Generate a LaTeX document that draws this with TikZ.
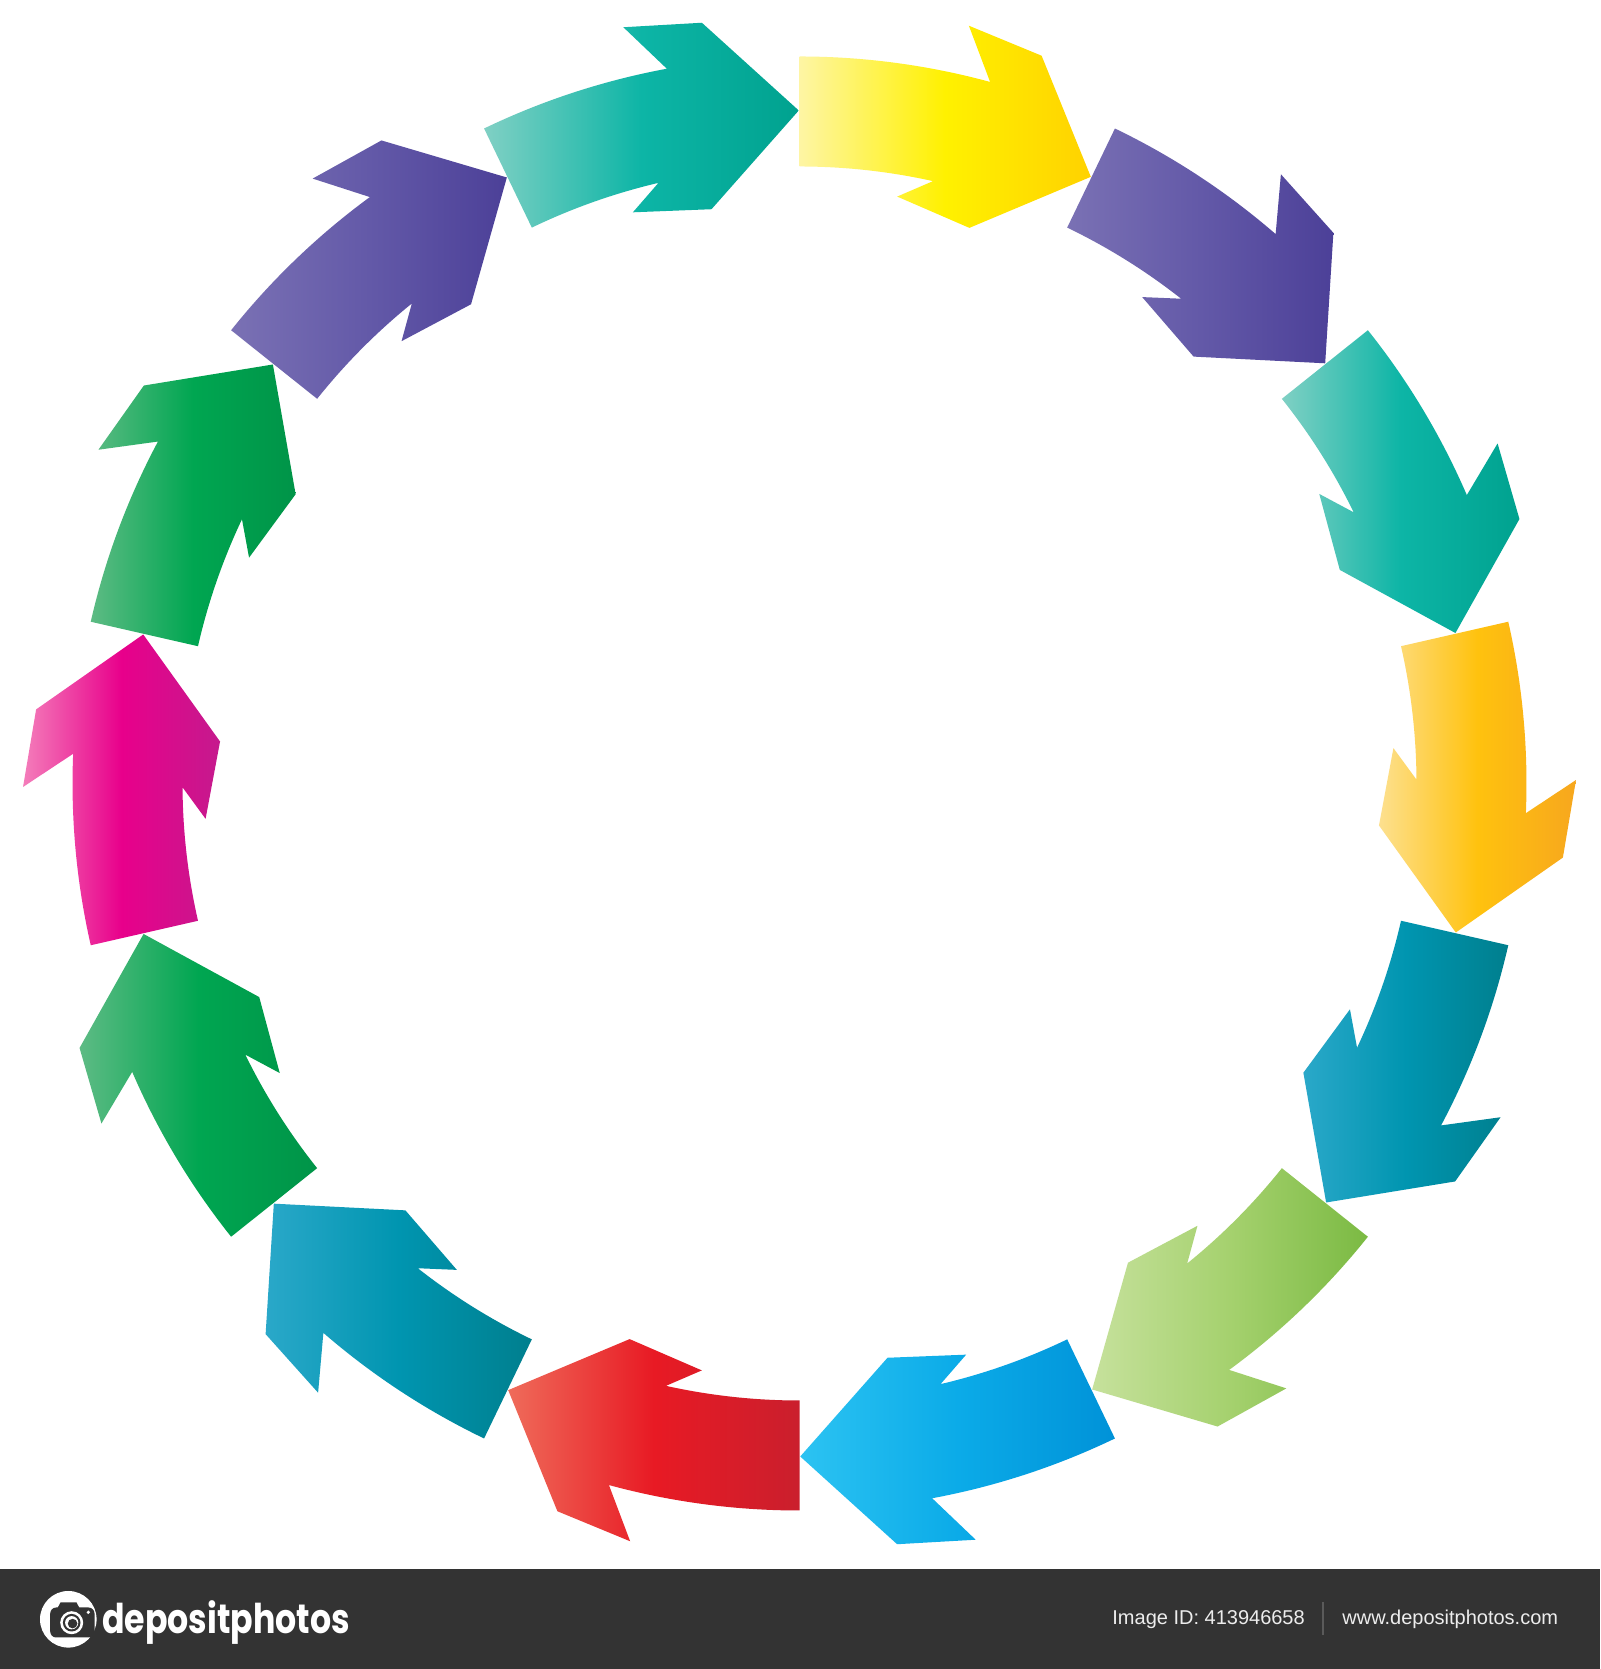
\documentclass[tikz,border=0pt]{standalone}
\usepackage{fontspec}
\setmainfont{Liberation Sans}
\newfontfamily\logofont{Poppins}
\definecolor{footbg}{HTML}{333333}
\definecolor{sepline}{HTML}{5A5A5A}
% yellow
\definecolor{yA}{HTML}{FEF5A4}\definecolor{yB}{HTML}{FFF100}\definecolor{yC}{HTML}{FFD200}
% purple
\definecolor{pA}{HTML}{7A71B4}\definecolor{pB}{HTML}{6359A8}\definecolor{pC}{HTML}{4C4098}
% teal
\definecolor{tA}{HTML}{80D0C4}\definecolor{tB}{HTML}{0DB5A6}\definecolor{tC}{HTML}{00A28F}
% orange
\definecolor{oA}{HTML}{FDE08F}\definecolor{oB}{HTML}{FFC20E}\definecolor{oC}{HTML}{F7A71E}
% blue-teal
\definecolor{bA}{HTML}{2AA8C9}\definecolor{bB}{HTML}{0095B0}\definecolor{bC}{HTML}{007F8E}
% light green
\definecolor{lA}{HTML}{C6E19C}\definecolor{lB}{HTML}{A5D16E}\definecolor{lC}{HTML}{7BBA43}
% blue
\definecolor{sA}{HTML}{2CC3F2}\definecolor{sB}{HTML}{0BABE8}\definecolor{sC}{HTML}{0092D8}
% red
\definecolor{rA}{HTML}{EF6B5A}\definecolor{rB}{HTML}{E81A24}\definecolor{rC}{HTML}{CA1F2D}
% green
\definecolor{gA}{HTML}{5DBB84}\definecolor{gB}{HTML}{00A651}\definecolor{gC}{HTML}{009448}
% magenta
\definecolor{mA}{HTML}{F47DBA}\definecolor{mB}{HTML}{E8008B}\definecolor{mC}{HTML}{C51A8D}
\tikzset{
  ringarrow/.style n args={3}{left color=#1, right color=#3, middle color=#2},
  foottext/.style={anchor=base west, inner sep=0pt, text=white!93!black,
    font=\fontsize{10}{12}\selectfont}
}
\begin{document}
\begin{tikzpicture}[x=0.5pt,y=0.5pt]
\useasboundingbox (0,0) rectangle (1600,1669);
\fill[white] (0,0) rectangle (1600,1669);
\begin{scope}[shift={(799.5,885.5)}]
\foreach \k/\cl/\cm/\cr in {0/yA/yB/yC, 1/pA/pB/pC, 2/tA/tB/tC, 3/oA/oB/oC,
  4/bA/bB/bC, 5/lA/lB/lC, 6/sA/sB/sC, 7/rA/rB/rC, 8/bA/bB/bC, 9/gA/gB/gC,
  10/mA/mB/mC, 11/gA/gB/gC, 12/pA/pB/pC, 13/tA/tB/tC}{
  \pgfmathsetmacro\t{90-\k*360/14}
  \path[ringarrow={\cl}{\cm}{\cr}]
    (\t:727) arc[start angle=\t, end angle=\t-15.2, radius=727]
    -- (\t-12.6:776.5) -- (\t-18.4:767) -- (\t-25.65:673)
    -- (\t-17:581) -- (\t-9.45:595) -- (\t-12.5:617)
    arc[start angle=\t-12.5, end angle=\t, radius=617] -- cycle;
}
\end{scope}
% footer bar
\fill[footbg] (0,0) rectangle (1600,100);
% logo
\fill[white] (68.3,49.7) circle[radius=28.3];
\fill[footbg, rounded corners=3] (50.2,31.5) rectangle (94.5,61.5);
\fill[footbg] (57,60) -- (60.5,66.5) -- (76.5,66.5) -- (80,60) -- cycle;
\fill[white] (71.7,46.3) circle[radius=11.5];
\fill[footbg] (71.7,46.3) circle[radius=8.8];
\fill[white] (71.7,46.3) circle[radius=6.6];
\fill[footbg] (72.6,45.4) circle[radius=4.8];
\fill[white] (88.3,56.7) circle[radius=1.8];
\node[anchor=base west, inner sep=0pt, text=white,
  font=\logofont\bfseries\fontsize{20.5}{24}\selectfont] (logotext) at (101.7,35.7)
  {\scalebox{0.81}[1]{depositphotos}};
\node[foottext] (imageid) at (1112,44) {Image ID: 413946658};
\coordinate (septop) at (1323,67);
\coordinate (sepbot) at (1323,34);
\draw[sepline, line width=0.6pt] (sepbot) -- (septop);
\node[foottext] (site) at (1342,44) {www.depositphotos.com};
\end{tikzpicture}
\end{document}
